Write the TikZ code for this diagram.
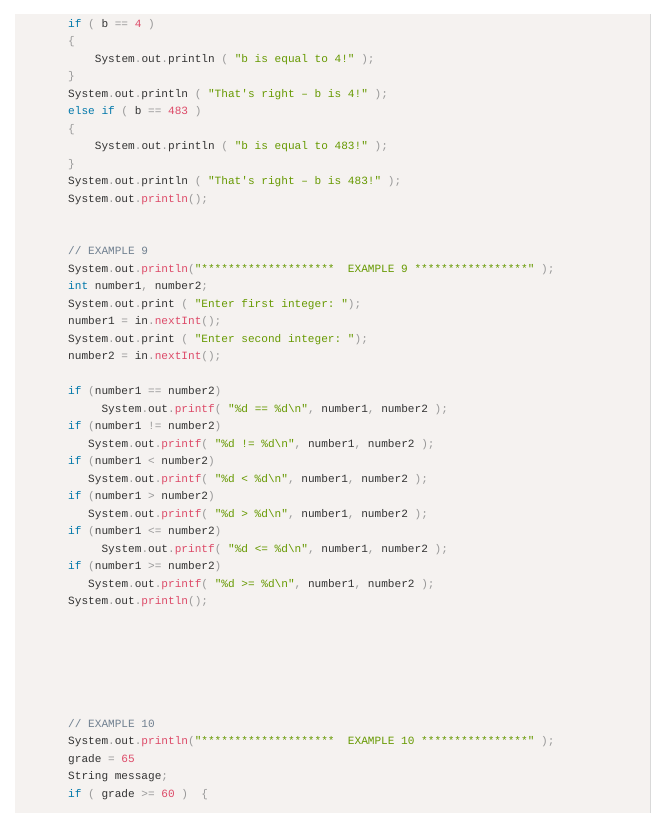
\documentclass[tikz,border=0pt]{standalone}
\usepackage{fontspec}
\setmonofont{Liberation Mono}
\definecolor{kw}{HTML}{0077AA}
\definecolor{pu}{HTML}{999999}
\definecolor{st}{HTML}{669900}
\definecolor{fn}{HTML}{DD4A68}
\definecolor{cm}{HTML}{708090}
\definecolor{tx}{HTML}{333333}
\definecolor{bg}{HTML}{F5F2F0}
\newcommand\K[1]{\textcolor{kw}{#1}}
\newcommand\Pu[1]{\textcolor{pu}{#1}}
\newcommand\Sx[1]{\textcolor{st}{#1}}
\newcommand\F[1]{\textcolor{fn}{#1}}
\newcommand\Cm[1]{\textcolor{cm}{#1}}
\newcommand\SO{System\Pu{.}out\Pu{.}}
\newcommand\CL[3][0]{\node[ln] (l#2) at ({68+#1*6.67},{27+#2*17.5}) {#3};}
\begin{document}
\begin{tikzpicture}[x=1pt,y=-1pt,
  ln/.style={anchor=base west,inner sep=0pt,text=tx,font=\ttfamily\fontsize{11.1}{13}\selectfont}]
\useasboundingbox (0,0) rectangle (671,833);
\fill[bg] (15,14) rectangle (650,813);
\draw[black!15] (650,14) -- (650,813);
\CL{0}{\K{if} \Pu{(} b \Pu{==} \F{4} \Pu{)}}
\CL{1}{\Pu{\{}}
\CL[4]{2}{\SO println \Pu{(} \Sx{"b is equal to 4!"} \Pu{);}}
\CL{3}{\Pu{\}}}
\CL{4}{\SO println \Pu{(} \Sx{"That's right – b is 4!"} \Pu{);}}
\CL{5}{\K{else} \K{if} \Pu{(} b \Pu{==} \F{483} \Pu{)}}
\CL{6}{\Pu{\{}}
\CL[4]{7}{\SO println \Pu{(} \Sx{"b is equal to 483!"} \Pu{);}}
\CL{8}{\Pu{\}}}
\CL{9}{\SO println \Pu{(} \Sx{"That's right – b is 483!"} \Pu{);}}
\CL{10}{\SO\F{println}\Pu{();}}
\CL{13}{\Cm{// EXAMPLE 9}}
\CL{14}{\SO\F{println}\Pu{(}\Sx{"********************~~EXAMPLE 9 *****************"} \Pu{);}}
\CL{15}{\K{int} number1\Pu{,} number2\Pu{;}}
\CL{16}{\SO print \Pu{(} \Sx{"Enter first integer: "}\Pu{);}}
\CL{17}{number1 \Pu{=} in\Pu{.}\F{nextInt}\Pu{();}}
\CL{18}{\SO print \Pu{(} \Sx{"Enter second integer: "}\Pu{);}}
\CL{19}{number2 \Pu{=} in\Pu{.}\F{nextInt}\Pu{();}}
\CL{21}{\K{if} \Pu{(}number1 \Pu{==} number2\Pu{)}}
\CL[5]{22}{\SO\F{printf}\Pu{(} \Sx{"\%d == \%d\textbackslash n"}\Pu{,} number1\Pu{,} number2 \Pu{);}}
\CL{23}{\K{if} \Pu{(}number1 \Pu{!=} number2\Pu{)}}
\CL[3]{24}{\SO\F{printf}\Pu{(} \Sx{"\%d != \%d\textbackslash n"}\Pu{,} number1\Pu{,} number2 \Pu{);}}
\CL{25}{\K{if} \Pu{(}number1 \Pu{<} number2\Pu{)}}
\CL[3]{26}{\SO\F{printf}\Pu{(} \Sx{"\%d < \%d\textbackslash n"}\Pu{,} number1\Pu{,} number2 \Pu{);}}
\CL{27}{\K{if} \Pu{(}number1 \Pu{>} number2\Pu{)}}
\CL[3]{28}{\SO\F{printf}\Pu{(} \Sx{"\%d > \%d\textbackslash n"}\Pu{,} number1\Pu{,} number2 \Pu{);}}
\CL{29}{\K{if} \Pu{(}number1 \Pu{<=} number2\Pu{)}}
\CL[5]{30}{\SO\F{printf}\Pu{(} \Sx{"\%d <= \%d\textbackslash n"}\Pu{,} number1\Pu{,} number2 \Pu{);}}
\CL{31}{\K{if} \Pu{(}number1 \Pu{>=} number2\Pu{)}}
\CL[3]{32}{\SO\F{printf}\Pu{(} \Sx{"\%d >= \%d\textbackslash n"}\Pu{,} number1\Pu{,} number2 \Pu{);}}
\CL{33}{\SO\F{println}\Pu{();}}
\CL{40}{\Cm{// EXAMPLE 10}}
\CL{41}{\SO\F{println}\Pu{(}\Sx{"********************~~EXAMPLE 10 ****************"} \Pu{);}}
\CL{42}{grade \Pu{=} \F{65}}
\CL{43}{String message\Pu{;}}
\CL{44}{\K{if} \Pu{(} grade \Pu{>=} \F{60} \Pu{)}~~\Pu{\{}}
\end{tikzpicture}
\end{document}
